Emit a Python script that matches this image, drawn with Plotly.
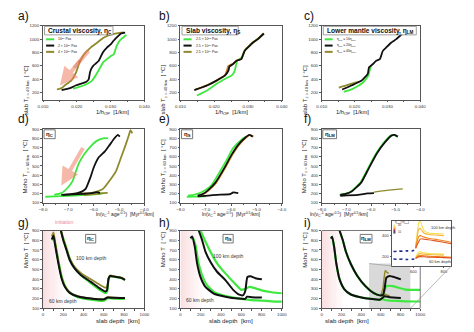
import plotly.graph_objects as go

# ---------------- data ----------------
# a) crustal viscosity: slab T at 40 km vs 1/h_OP
a_green_x = [0.0189, 0.0205, 0.0222, 0.0235, 0.0246, 0.0256, 0.0265, 0.0279, 0.0290, 0.0300, 0.0309, 0.0318, 0.0328, 0.0340, 0.0347]
a_green_y = [263, 285, 312, 345, 385, 460, 540, 660, 705, 745, 770, 900, 985, 1035, 1060]
a_black_x = [0.0155, 0.0180, 0.0198, 0.0215, 0.0227, 0.0235, 0.0239, 0.0243, 0.0249, 0.0257, 0.0265, 0.0277, 0.0289, 0.0300, 0.0308, 0.0322, 0.0331, 0.0343]
a_black_y = [239, 270, 312, 340, 361, 400, 507, 560, 605, 640, 678, 800, 873, 920, 971, 1044, 1083, 1095]
a_olive_x = [0.0141, 0.0155, 0.0165, 0.0184, 0.0198, 0.0208, 0.0222, 0.0241, 0.0260, 0.0279, 0.0303, 0.0327, 0.0340]
a_olive_y = [249, 270, 312, 385, 507, 654, 776, 873, 946, 1020, 1068, 1093, 1100]

# b) slab viscosity
b_green_x = [0.0149, 0.0180, 0.0208, 0.0237, 0.0252, 0.0260, 0.0264, 0.0268, 0.0280, 0.0292, 0.0305, 0.0314, 0.0333, 0.0347]
b_green_y = [160, 239, 337, 420, 460, 520, 600, 678, 720, 849, 900, 946, 1020, 1078]
b_olive_x = [0.0143, 0.0180, 0.0208, 0.0232, 0.0238, 0.0242, 0.0256, 0.0266, 0.0280, 0.0290, 0.0299, 0.0314, 0.0328, 0.0345]
b_olive_y = [245, 315, 388, 462, 540, 600, 632, 680, 705, 826, 875, 948, 998, 1085]
b_black_x = [0.0141, 0.0180, 0.0208, 0.0232, 0.0242, 0.0245, 0.0256, 0.0266, 0.0280, 0.0290, 0.0299, 0.0314, 0.0328, 0.0347]
b_black_y = [240, 312, 385, 459, 532, 590, 629, 678, 702, 824, 873, 946, 995, 1083]

# c) lower mantle viscosity
c_green_x = [0.0167, 0.0185, 0.0202, 0.0227, 0.0242, 0.0247, 0.0250]
c_green_y = [215, 240, 278, 361, 459, 556, 605]
c_olive_x = [0.0152, 0.0175, 0.0192, 0.0212]
c_olive_y = [278, 310, 337, 361]
c_black_x = [0.0162, 0.0192, 0.0222, 0.0240, 0.0244, 0.0256, 0.0266, 0.0277, 0.0286, 0.0296, 0.0311, 0.0326, 0.0346]
c_black_y = [249, 312, 385, 483, 580, 629, 678, 702, 824, 873, 946, 995, 1083]

# d) Moho T at 60 km vs ln(vc^-1 age^-0.5), crustal viscosity
d_green_hi_x = [-7.56, -7.28, -7.02, -6.83, -6.70, -6.58, -6.39, -6.13, -5.88, -5.63, -5.43]
d_green_hi_y = [188, 206, 267, 338, 445, 534, 623, 711, 772, 800, 800]
d_green_lo_x = [-7.91, -7.50, -7.00, -6.51, -6.00, -5.75, -5.63]
d_green_lo_y = [167, 170, 176, 185, 192, 199, 206]
d_olive_hi_x = [-6.90, -6.50, -6.13, -5.85, -5.63, -5.37, -5.12, -4.93, -4.74, -4.61, -4.55, -4.48]
d_olive_hi_y = [199, 202, 206, 225, 252, 342, 445, 587, 729, 836, 889, 854]
d_olive_lo_x = [-6.39, -6.00, -5.63, -5.45]
d_olive_lo_y = [185, 195, 206, 208]
d_black_hi_x = [-7.28, -6.90, -6.64, -6.45, -6.32, -6.13, -6.00, -5.82, -5.56, -5.37, -5.18, -5.05, -4.97]
d_black_hi_y = [188, 195, 206, 225, 252, 377, 484, 587, 658, 729, 800, 836, 818]
d_black_lo_x = [-7.21, -6.80, -6.39, -6.10, -5.88, -5.75]
d_black_lo_y = [188, 192, 199, 205, 217, 206]

# e) slab viscosity
e_green_hi_x = [-7.71, -7.45, -7.19, -6.95, -6.75, -6.43, -6.17, -5.92, -5.60, -5.41]
e_green_hi_y = [178, 190, 213, 250, 302, 445, 569, 694, 783, 818]
e_green_lo_x = [-7.75, -7.40, -7.00]
e_green_lo_y = [165, 168, 172]
e_olive_hi_x = [-7.29, -7.07, -6.91, -6.59, -6.27, -5.95, -5.69, -5.44, -5.25, -5.12]
e_olive_hi_y = [178, 200, 231, 320, 463, 623, 729, 800, 836, 818]
e_black_hi_x = [-7.32, -7.10, -6.94, -6.62, -6.30, -5.98, -5.72, -5.47, -5.28, -5.15]
e_black_hi_y = [178, 200, 231, 320, 463, 623, 729, 800, 836, 818]
e_black_lo_x = [-7.32, -6.90, -6.56, -6.04, -5.92, -5.72]
e_black_lo_y = [171, 180, 188, 195, 213, 206]

# f) lower mantle viscosity
f_green_hi_x = [-7.28, -7.03, -6.82, -6.43, -6.11, -5.78, -5.46, -5.20, -5.07, -4.94]
f_green_hi_y = [188, 200, 224, 320, 480, 640, 758, 829, 836, 818]
f_black_hi_x = [-7.25, -7.00, -6.79, -6.40, -6.08, -5.75, -5.43, -5.17, -5.04, -4.91]
f_black_hi_y = [188, 200, 224, 320, 480, 640, 758, 829, 836, 818]
f_black_lo_x = [-7.25, -6.53, -6.14, -5.88]
f_black_lo_y = [178, 188, 203, 206]
f_olive_lo_x = [-5.88, -5.36, -4.71]
f_olive_lo_y = [217, 235, 252]

# g) Moho T vs slab depth, crustal viscosity (100 km and 60 km depth)
g_100_x = [176, 199, 231, 263, 311, 375, 471, 567, 615, 631, 647, 663, 712, 776, 808]
g_black_100_y = [900, 803, 700, 597, 510, 441, 372, 300, 272, 285, 407, 432, 424, 410, 392]
g_green_100_y = [900, 820, 720, 612, 515, 440, 360, 285, 255, 270, 400, 430, 422, 410, 390]
g_olive_100_y = [900, 812, 712, 612, 528, 462, 398, 338, 312, 320, 410, 438, 426, 415, 395]
g_60_x = [87, 103, 119, 151, 183, 215, 263, 343, 471, 599, 615, 638, 695, 808]
g_black_60_y = [810, 845, 752, 562, 407, 321, 259, 222, 200, 192, 200, 212, 208, 205]
g_green_60_y = [800, 830, 770, 590, 430, 335, 262, 215, 190, 178, 188, 205, 200, 198]
g_olive_60_y = [840, 880, 780, 580, 420, 330, 265, 226, 203, 195, 203, 214, 210, 207]

# h) slab viscosity
h_black_100_x = [180, 213, 246, 295, 361, 443, 520, 580, 620, 640, 660, 690, 740, 803]
h_black_100_y = [900, 803, 683, 579, 476, 390, 290, 240, 235, 280, 420, 430, 410, 400]
h_green_100_x = [197, 246, 295, 361, 443, 541, 600, 640, 680, 740, 800, 900, 1000]
h_green_100_y = [900, 786, 683, 562, 459, 350, 290, 300, 320, 305, 285, 265, 255]
h_black_60_x = [98, 115, 141, 164, 197, 246, 328, 443, 574, 639, 656, 705, 803]
h_black_60_y = [821, 838, 734, 562, 424, 321, 252, 220, 200, 198, 220, 215, 210]
h_green_60_x = [105, 122, 150, 175, 210, 260, 340, 450, 580, 640, 700, 800, 900, 1000]
h_green_60_y = [810, 825, 740, 580, 450, 340, 262, 225, 200, 192, 185, 180, 172, 168]

# i) lower mantle viscosity
i_black_100_x = [180, 213, 246, 295, 361, 443, 525, 590, 623, 639, 656, 689, 754, 803]
i_black_100_y = [900, 802, 679, 556, 433, 328, 258, 233, 240, 310, 415, 433, 415, 398]
i_green_100_x = [180, 213, 246, 295, 361, 443, 525, 590, 623, 639, 656, 721, 852, 1000]
i_green_100_y = [900, 802, 679, 556, 433, 328, 258, 233, 240, 290, 328, 328, 293, 290]
i_olive_100_x = [600, 620, 635, 645, 660, 680]
i_olive_100_y = [240, 300, 430, 490, 470, 460]
i_black_60_x = [92, 105, 125, 148, 180, 230, 295, 426, 590, 616, 639, 689, 803]
i_black_60_y = [818, 836, 733, 558, 400, 295, 242, 207, 189, 207, 224, 214, 207]
i_green_60_x = [92, 105, 125, 148, 180, 230, 295, 426, 590, 616, 639, 689, 852, 1000]
i_green_60_y = [818, 836, 733, 558, 400, 295, 242, 207, 189, 195, 185, 180, 172, 170]
i_olive_60_x = [610, 630, 645, 665, 690]
i_olive_60_y = [195, 225, 245, 235, 230]

# inset of i: lower-mantle viscosity runs around the 660 km transition
ins_pre_x = [470, 500, 530, 560, 590, 615]
ins_pre_100_y = [245, 250, 248, 252, 250, 262]
ins_pre_60_y = [172, 170, 172, 168, 170, 175]
ins_100_x = [615, 625, 635, 645, 655, 670, 700, 760, 800, 850]
ins_100 = {
    "#f2e050": [290, 420, 520, 545, 500, 450, 425, 420, 415, None],
    "#f5b83a": [285, 380, 460, 470, 450, 425, 410, 405, 400, None],
    "#f0841e": [280, 340, 390, 400, 395, 385, 375, 360, 350, 335],
    "#dd4f1c": [275, 310, 340, 365, 370, 365, 360, 345, 335, 320],
}
ins_60_x = [615, 625, 640, 655, 670, 700, 760, 800, 850]
ins_60 = {
    "#f2e050": [185, 215, 245, 238, 232, 226, 222, 220, None],
    "#f5b83a": [182, 200, 225, 222, 218, 215, 212, 210, None],
    "#f0841e": [180, 192, 208, 206, 204, 200, 196, 194, 190],
    "#dd4f1c": [178, 186, 196, 195, 194, 191, 188, 186, 184],
}

leg_a = ["10<sup>20</sup> Pas", "2 × 10<sup>20</sup> Pas", "4 × 10<sup>20</sup> Pas"]
leg_b = ["2.5 × 10<sup>22</sup> Pas", "2.5 × 10<sup>23</sup> Pas", "2.5 × 10<sup>24</sup> Pas"]
leg_c = ["η<sub>LM</sub> = 10η<sub>UM</sub>", "η<sub>LM</sub> = 20η<sub>UM</sub>", "η<sub>LM</sub> = 40η<sub>UM</sub>"]

# ---------------- styling / layout ----------------
W, H = 474, 332
FONT = "Liberation Sans, Arial, sans-serif"
GREEN, BLACK, OLIVE = "#3ee83e", "#111111", "#8f8a2c"
SALMON = "rgba(240,128,100,0.55)"

cols = [(38, 142), (179, 283), (324, 425)]
rows = [(24, 99), (129, 204), (232, 311)]


def sfx(n):
    return "" if n == 1 else str(n)


fig = go.Figure()


def line(n, x, y, color, width=1.8, dash=None):
    fig.add_trace(go.Scatter(
        x=x, y=y, mode="lines", showlegend=False, hoverinfo="skip",
        line=dict(color=color, width=width, dash=dash, shape="spline", smoothing=0.5),
        connectgaps=False,
        xaxis="x" + sfx(n), yaxis="y" + sfx(n)))


# row 1
line(1, a_green_x, a_green_y, GREEN)
line(1, a_olive_x, a_olive_y, OLIVE)
line(1, a_black_x, a_black_y, BLACK)
line(2, b_green_x, b_green_y, GREEN)
line(2, b_olive_x, b_olive_y, "#c8801e")
line(2, b_black_x, b_black_y, BLACK)
line(3, c_green_x, c_green_y, GREEN)
line(3, c_olive_x, c_olive_y, OLIVE)
line(3, c_black_x, c_black_y, BLACK)
# row 2
line(4, d_green_hi_x, d_green_hi_y, GREEN)
line(4, d_green_lo_x, d_green_lo_y, GREEN)
line(4, d_olive_hi_x, d_olive_hi_y, OLIVE)
line(4, d_olive_lo_x, d_olive_lo_y, OLIVE)
line(4, d_black_hi_x, d_black_hi_y, BLACK)
line(4, d_black_lo_x, d_black_lo_y, BLACK)
line(5, e_green_hi_x, e_green_hi_y, GREEN)
line(5, e_green_lo_x, e_green_lo_y, GREEN)
line(5, e_olive_hi_x, e_olive_hi_y, "#d08a20")
line(5, e_black_hi_x, e_black_hi_y, BLACK)
line(5, e_black_lo_x, e_black_lo_y, BLACK)
line(6, f_green_hi_x, f_green_hi_y, GREEN)
line(6, f_olive_lo_x, f_olive_lo_y, OLIVE, 1.2)
line(6, f_black_hi_x, f_black_hi_y, BLACK)
line(6, f_black_lo_x, f_black_lo_y, BLACK)
# row 3
line(7, g_100_x, g_green_100_y, GREEN, 2.2)
line(7, g_100_x, g_olive_100_y, OLIVE)
line(7, g_100_x, g_black_100_y, BLACK, 2.0)
line(7, g_60_x, g_green_60_y, GREEN, 2.2)
line(7, g_60_x, g_olive_60_y, OLIVE)
line(7, g_60_x, g_black_60_y, BLACK, 2.0)
line(8, h_green_100_x, h_green_100_y, GREEN, 2.2)
line(8, h_green_60_x, h_green_60_y, GREEN, 2.2)
line(8, h_black_100_x, h_black_100_y, BLACK, 2.0)
line(8, h_black_60_x, h_black_60_y, BLACK, 2.0)
line(9, i_green_100_x, i_green_100_y, GREEN, 2.2)
line(9, i_green_60_x, i_green_60_y, GREEN, 2.2)
line(9, i_olive_100_x, i_olive_100_y, OLIVE, 1.4)
line(9, i_olive_60_x, i_olive_60_y, OLIVE, 1.4)
line(9, i_black_100_x, i_black_100_y, BLACK, 2.0)
line(9, i_black_60_x, i_black_60_y, BLACK, 2.0)
# inset
line(10, ins_pre_x, ins_pre_100_y, "#1c2a8a", 1.6, "dot")
line(10, ins_pre_x, ins_pre_60_y, "#1c2a8a", 1.6, "dot")
for col, ys in ins_100.items():
    line(10, ins_100_x, ys, col, 1.1)
for col, ys in ins_60.items():
    line(10, ins_60_x, ys, col, 1.1)

axcommon = dict(
    showline=True, linecolor="#555", linewidth=0.8, ticks="outside", ticklen=2,
    tickwidth=0.6, tickcolor="#555", showgrid=False, zeroline=False,
    tickfont=dict(size=4.4, color="#333", family=FONT),
)

row_x = [
    dict(range=[0.010, 0.040], tickvals=[0.010, 0.020, 0.030, 0.040], tickformat=".3f",
         minor=dict(tickvals=[0.015, 0.025, 0.035], ticks="outside", ticklen=1.5, tickcolor="#555")),
    dict(range=[-8, -4], tickvals=[-8, -7, -6, -5, -4], tickformat=".1f",
         minor=dict(tickvals=[-7.5, -6.5, -5.5, -4.5], ticks="outside", ticklen=1.5, tickcolor="#555")),
    dict(range=[0, 1000], tickvals=[0, 200, 400, 600, 800, 1000],
         minor=dict(tickvals=[100, 300, 500, 700, 900], ticks="outside", ticklen=1.5, tickcolor="#555")),
]
row_y = [
    dict(range=[100, 1200], tickvals=[200, 400, 600, 800, 1000, 1200]),
    dict(range=[100, 900], tickvals=list(range(100, 901, 100))),
    dict(range=[100, 900], tickvals=list(range(100, 901, 100))),
]

for n in range(1, 10):
    r, c = (n - 1) // 3, (n - 1) % 3
    x0, x1 = cols[c]
    t, b = rows[r]
    mir = False if n == 9 else True
    fig.layout["xaxis" + sfx(n)] = dict(axcommon, domain=[x0 / W, x1 / W], anchor="y" + sfx(n),
                                        mirror=mir, **row_x[r])
    fig.layout["yaxis" + sfx(n)] = dict(axcommon, domain=[1 - b / H, 1 - t / H], anchor="x" + sfx(n),
                                        mirror=mir, **row_y[r])

# inset axes
IX0, IX1, IT, IB = 396, 457, 222, 268
fig.layout["xaxis10"] = dict(axcommon, domain=[IX0 / W, IX1 / W], anchor="y10", mirror=True,
                             range=[460, 850], tickvals=[600, 800], ticklen=1.5,
                             tickfont=dict(size=4, color="#333", family=FONT))
fig.layout["yaxis10"] = dict(axcommon, domain=[1 - IB / H, 1 - IT / H], anchor="x10", mirror=True,
                             range=[105, 545], tickvals=[200, 400], ticklen=1.5,
                             tickfont=dict(size=4, color="#333", family=FONT))

shapes = []
ann = []

# pink "initiation" band on slab-depth panels
for n in (7, 8, 9):
    steps = 24
    for k in range(steps):
        xa = 250 * k / steps
        xb = 250 * (k + 1) / steps
        op = 0.32 * (1 - k / steps) ** 1.3
        shapes.append(dict(type="rect", xref="x" + sfx(n), yref="y%s domain" % sfx(n),
                           x0=xa, x1=xb, y0=0, y1=1, fillcolor="rgb(240,150,160)",
                           opacity=op, line=dict(width=0), layer="below"))

# shaded zoom window in i and its connectors to the inset
RX0, RX1, RY0, RY1 = 480, 900, 100, 560
shapes.append(dict(type="rect", xref="x9", yref="y9", x0=RX0, x1=RX1, y0=RY0, y1=RY1,
                   fillcolor="rgba(170,170,170,0.45)", line=dict(width=0), layer="below"))


def to_paper_i(xv, yv):
    x0, x1 = cols[2]
    t, b = rows[2]
    px = x0 + (xv - 0) / 1000 * (x1 - x0)
    py = b - (yv - 100) / 800 * (b - t)
    return px / W, 1 - py / H


p1 = to_paper_i(RX0, RY1)
p2 = to_paper_i(RX1, RY0)
shapes.append(dict(type="line", xref="paper", yref="paper", x0=p1[0], y0=p1[1],
                   x1=IX0 / W, y1=1 - IB / H, line=dict(color="#999", width=0.7)))
shapes.append(dict(type="line", xref="paper", yref="paper", x0=p2[0], y0=p2[1],
                   x1=IX1 / W, y1=1 - IB / H, line=dict(color="#999", width=0.7)))
# panel i frame (top/right) stopping at the inset
x0p, x1p = cols[2]
tp, bp = rows[2]
shapes.append(dict(type="line", xref="paper", yref="paper", x0=x0p / W, x1=IX0 / W,
                   y0=1 - tp / H, y1=1 - tp / H, line=dict(color="#555", width=0.8)))
shapes.append(dict(type="line", xref="paper", yref="paper", x0=x1p / W, x1=x1p / W,
                   y0=1 - IB / H, y1=1 - bp / H, line=dict(color="#555", width=0.8)))
# inset colour key
key_cols = ["#1c1c3a", "#3a2a7a", "#a02860", "#dd4f1c", "#f0841e", "#f5b83a", "#f2e050", "#fbf4c0"]
for k, kc in enumerate(key_cols):
    ya = 235 - k * 1.2
    shapes.append(dict(type="rect", xref="paper", yref="paper", x0=397.5 / W, x1=399.5 / W,
                       y0=1 - ya / H, y1=1 - (ya - 1.2) / H, fillcolor=kc, line=dict(width=0)))
ann.append(dict(xref="paper", yref="paper", x=397 / W, y=1 - 223.5 / H, xanchor="left", yanchor="middle",
                text="η<sub>LM</sub> [×η<sub>UM</sub>]", showarrow=False,
                font=dict(size=3, family=FONT, color="#333")))
ann.append(dict(xref="paper", yref="paper", x=400 / W, y=1 - 226.5 / H, xanchor="left", yanchor="middle",
                text="40", showarrow=False, font=dict(size=2.8, family=FONT, color="#333")))
ann.append(dict(xref="paper", yref="paper", x=400 / W, y=1 - 234 / H, xanchor="left", yanchor="middle",
                text="10", showarrow=False, font=dict(size=2.8, family=FONT, color="#333")))
ann.append(dict(xref="x10", yref="y10", x=700, y=480, xanchor="left", text="100 km depth",
                showarrow=False, font=dict(size=4, family=FONT, color="#333")))
ann.append(dict(xref="x10", yref="y10", x=690, y=148, xanchor="left", text="60 km depth",
                showarrow=False, font=dict(size=4, family=FONT, color="#333")))

# legends of the top row
def legend(n, title, labels, bx1):
    s = sfx(n)
    shapes.append(dict(type="rect", xref="x%s domain" % s, yref="y%s domain" % s,
                       x0=0.015, x1=bx1, y0=0.875, y1=0.99, fillcolor="white",
                       line=dict(color="#888", width=0.8)))
    ann.append(dict(xref="x%s domain" % s, yref="y%s domain" % s, x=0.03, y=0.932,
                    xanchor="left", yanchor="middle", text="<b>%s</b>" % title, showarrow=False,
                    font=dict(size=6.6, family=FONT, color="#111")))
    for k, (lab, col) in enumerate(zip(labels, [GREEN, BLACK, OLIVE])):
        yy = 0.815 - k * 0.085
        shapes.append(dict(type="line", xref="x%s domain" % s, yref="y%s domain" % s,
                           x0=0.03, x1=0.11, y0=yy, y1=yy, line=dict(color=col, width=2)))
        ann.append(dict(xref="x%s domain" % s, yref="y%s domain" % s, x=0.13, y=yy,
                        xanchor="left", yanchor="middle", text=lab, showarrow=False,
                        font=dict(size=3.4, family=FONT, color="#222")))


legend(1, "Crustal viscosity, η<sub>C</sub>", leg_a, 0.69)
legend(2, "Slab viscosity, η<sub>S</sub>", leg_b, 0.57)
legend(3, "Lower mantle viscosity, η<sub>LM</sub>", leg_c, 0.96)

# boxed parameter tags
def tag(n, text, x0, x1, y0, y1):
    s = sfx(n)
    shapes.append(dict(type="rect", xref="x%s domain" % s, yref="y%s domain" % s,
                       x0=x0, x1=x1, y0=y0, y1=y1, fillcolor="white",
                       line=dict(color="#555", width=0.8)))
    ann.append(dict(xref="x%s domain" % s, yref="y%s domain" % s, x=(x0 + x1) / 2, y=(y0 + y1) / 2,
                    xanchor="center", yanchor="middle", text="<b>%s</b>" % text, showarrow=False,
                    font=dict(size=6, family=FONT, color="#111")))


tag(4, "η<sub>C</sub>", 0.01, 0.12, 0.87, 0.99)
tag(5, "η<sub>S</sub>", 0.01, 0.12, 0.87, 0.99)
tag(6, "η<sub>LM</sub>", 0.01, 0.15, 0.87, 0.99)
tag(7, "η<sub>C</sub>", 0.42, 0.52, 0.84, 0.95)
tag(8, "η<sub>S</sub>", 0.42, 0.52, 0.84, 0.95)
tag(9, "η<sub>LM</sub>", 0.39, 0.51, 0.84, 0.95)

# time arrows
ann.append(dict(xref="x", yref="y", axref="x", ayref="y", x=0.0150, y=310, ax=0.0238, ay=850,
                showarrow=True, arrowhead=2, arrowsize=0.9, arrowwidth=4, arrowcolor=SALMON, text=""))
ann.append(dict(xref="x", yref="y", x=0.0201, y=640, text="time", textangle=-52, showarrow=False,
                font=dict(size=5, family=FONT, color="rgb(215,95,70)")))
ann.append(dict(xref="x4", yref="y4", axref="x4", ayref="y4", x=-7.28, y=288, ax=-6.39, ay=710,
                showarrow=True, arrowhead=2, arrowsize=0.9, arrowwidth=4, arrowcolor=SALMON, text=""))

# depth labels
for n, xa, ya, xb, yb in ((7, 310, 616, 40, 178), (8, 300, 637, 30, 190)):
    ann.append(dict(xref="x" + sfx(n), yref="y" + sfx(n), x=xa, y=ya, xanchor="left", text="100 km depth",
                    showarrow=False, font=dict(size=5, family=FONT, color="#333")))
    ann.append(dict(xref="x" + sfx(n), yref="y" + sfx(n), x=xb, y=yb, xanchor="left", text="60 km depth",
                    showarrow=False, font=dict(size=5, family=FONT, color="#333")))
ann.append(dict(xref="paper", yref="paper", x=48 / W, y=1 - 228.5 / H, text="initiation", showarrow=False,
                font=dict(size=5, family=FONT, color="rgb(232,140,150)")))

# axis titles
xt = ["1/h<sub>OP</sub>  [1/km]",
      "ln(v<sub>C</sub><sup>-1</sup> age<sup>-0.5</sup>)  [Myr<sup>0.5</sup>/km]",
      "slab depth  [km]"]
xts = [5.8, 5.0, 6.2]
xty = [112, 215.5, 323]
yt = ["slab T<sub>z = 40 km</sub>  [ °C]", "Moho T<sub>z = 60 km</sub>  [ °C]", "Moho T  [ °C]"]
ytx = [21, 162, 307]
for r in range(3):
    for c in range(3):
        x0, x1 = cols[c]
        t, b = rows[r]
        ann.append(dict(xref="paper", yref="paper", x=(x0 + x1) / 2 / W, y=1 - xty[r] / H,
                        text=xt[r], showarrow=False, yanchor="middle",
                        font=dict(size=xts[r], family=FONT, color="#222")))
        ann.append(dict(xref="paper", yref="paper", x=ytx[c] / W, y=1 - (t + b) / 2 / H,
                        text=yt[r], showarrow=False, textangle=-90, xanchor="center",
                        font=dict(size=6, family=FONT, color="#222")))

# panel letters
letters = "abcdefghi"
lx = [10, 155, 304]
ly = [14, 119, 224.5]
for k, L in enumerate(letters):
    r, c = k // 3, k % 3
    ann.append(dict(xref="paper", yref="paper", x=lx[c] / W, y=1 - ly[r] / H, xanchor="left",
                    yanchor="middle", text=L + ")", showarrow=False,
                    font=dict(size=12, family=FONT, color="#111")))

fig.update_layout(
    width=W, height=H, margin=dict(l=0, r=0, t=0, b=0),
    paper_bgcolor="white", plot_bgcolor="white",
    shapes=shapes, annotations=ann, showlegend=False,
    font=dict(family=FONT),
)

fig.write_html("out.html")
